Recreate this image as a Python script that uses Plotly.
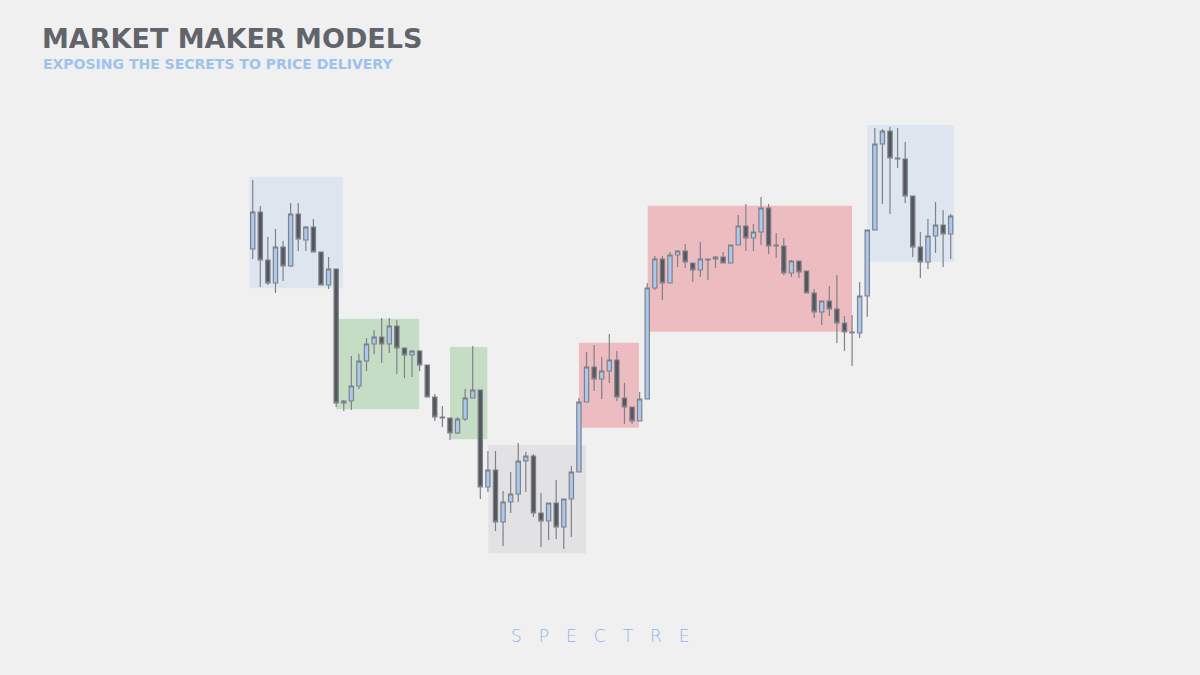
import plotly.graph_objects as go

# candle data (price units)
opens = [351, 388, 340, 317, 353, 334, 386, 360, 373, 348, 315, 331, 197, 199, 214, 239, 256, 263, 256, 274,
         252, 245, 249, 235, 203, 183, 182, 167, 181, 202, 210, 113, 130, 78, 98, 106, 139, 144, 87, 79,
         97, 73, 101, 128, 198, 233, 221, 229, 240, 202, 193, 179, 201, 312, 341, 317, 345, 349, 337, 330,
         341, 341, 343, 337, 355, 374, 362, 368, 392, 355, 354, 327, 339, 329, 307, 288, 299, 291, 277, 268,
         267, 304, 370, 456, 469, 442, 441, 404, 353, 338, 364, 375, 366]
highs = [420, 394, 363, 371, 359, 397, 397, 374, 381, 348, 343, 331, 200, 244, 246, 262, 270, 282, 282, 280,
         252, 250, 250, 235, 206, 194, 182, 183, 211, 254, 210, 149, 149, 109, 128, 157, 148, 146, 107, 97,
         120, 101, 134, 202, 248, 255, 243, 266, 249, 217, 193, 208, 317, 344, 344, 348, 350, 356, 337, 358,
         341, 344, 348, 355, 385, 396, 376, 403, 396, 367, 362, 340, 339, 329, 311, 299, 314, 325, 284, 285,
         318, 370, 472, 471, 473, 472, 458, 404, 368, 381, 398, 390, 386]
lows = [341, 313, 315, 307, 319, 333, 349, 349, 348, 315, 311, 193, 189, 190, 211, 229, 246, 237, 247, 226,
        222, 223, 229, 203, 179, 173, 160, 166, 179, 202, 101, 108, 69, 54, 87, 98, 108, 83, 53, 60,
        61, 51, 63, 128, 198, 209, 201, 217, 199, 176, 176, 179, 201, 310, 300, 317, 333, 332, 318, 323,
        320, 332, 337, 337, 355, 349, 349, 355, 346, 342, 325, 323, 322, 307, 282, 275, 284, 257, 249, 234,
        262, 283, 370, 396, 386, 432, 397, 343, 322, 331, 347, 333, 341]
closes = [388, 340, 317, 353, 334, 386, 361, 373, 348, 315, 331, 197, 199, 214, 239, 256, 263, 256, 274, 252,
          245, 249, 235, 203, 183, 182, 167, 181, 202, 210, 113, 130, 78, 98, 106, 139, 144, 87, 79, 97,
          73, 101, 128, 198, 233, 221, 229, 240, 203, 193, 179, 201, 312, 341, 317, 345, 349, 338, 330, 341,
          340, 343, 337, 355, 374, 362, 368, 392, 354, 354, 327, 339, 328, 307, 288, 299, 291, 277, 268, 267,
          304, 370, 456, 469, 442, 441, 404, 353, 338, 364, 375, 366, 384]
bars = list(range(len(opens)))

# highlighted zones: (first bar, last bar, low, high, colour)
zone_x0 = [-0.45, 10.98, 26.0, 31.05, 43.0, 52.06, 81.0]
zone_x1 = [11.86, 21.96, 30.92, 43.93, 50.9, 78.99, 92.43]
zone_lo = [311.7, 190.7, 160.7, 46.7, 172.3, 268.3, 338.3]
zone_hi = [423.3, 281.3, 253.0, 155.0, 257.3, 394.3, 475.0]
zone_col = ["#dde5ef", "#c5ddc5", "#c5ddc5", "#e2e2e5", "#edbcc0", "#edbcc0", "#dde5ef"]

fig = go.Figure()
fig.add_trace(go.Candlestick(x=bars, open=opens, high=highs, low=lows, close=closes,
                             increasing=dict(fillcolor="#a9c9f0", line=dict(color="#7f8189", width=1.2)),
                             decreasing=dict(fillcolor="#55575f", line=dict(color="#7f8189", width=1.2)),
                             whiskerwidth=0, showlegend=False, hoverinfo="skip"))

for x0, x1, lo, hi, c in zip(zone_x0, zone_x1, zone_lo, zone_hi, zone_col):
    fig.add_shape(type="rect", x0=x0, x1=x1, y0=lo, y1=hi, xref="x", yref="y",
                  fillcolor=c, line=dict(width=0), layer="below")

fig.update_xaxes(visible=False, range=[-33.31, 124.86], rangeslider=dict(visible=False))
fig.update_yaxes(visible=False, range=[-75, 600])

#title block
fig.add_annotation(text="<b>MARKET MAKER MODELS</b>", xref="paper", yref="paper", x=0.033, y=1 - 21 / 675,
                   xanchor="left", yanchor="top", showarrow=False,
                   font=dict(family="DejaVu Sans", size=27, color="#62646c"))
fig.add_annotation(text="<b>EXPOSING THE SECRETS TO PRICE DELIVERY</b>", xref="paper", yref="paper",
                   x=0.034, y=1 - 54 / 675, xanchor="left", yanchor="top", showarrow=False,
                   font=dict(family="DejaVu Sans", size=14, color="#9dc2ee"))
fig.add_annotation(text="S\u2003P\u2003E\u2003C\u2003T\u2003R\u2003E", xref="paper", yref="paper",
                   x=0.5, y=1 - 636 / 675, xanchor="center", yanchor="middle", showarrow=False,
                   font=dict(family="DejaVu Sans", size=17, color="#8db7ec", weight=300))

fig.update_layout(width=1200, height=675, margin=dict(l=0, r=0, t=0, b=0), boxgap=0.2,
                  paper_bgcolor="#f0f0f0", plot_bgcolor="#f0f0f0")

fig.write_html("out.html", config={"displayModeBar": False},
               post_script="document.body.style.margin='0';document.body.style.background='#f0f0f0';")
